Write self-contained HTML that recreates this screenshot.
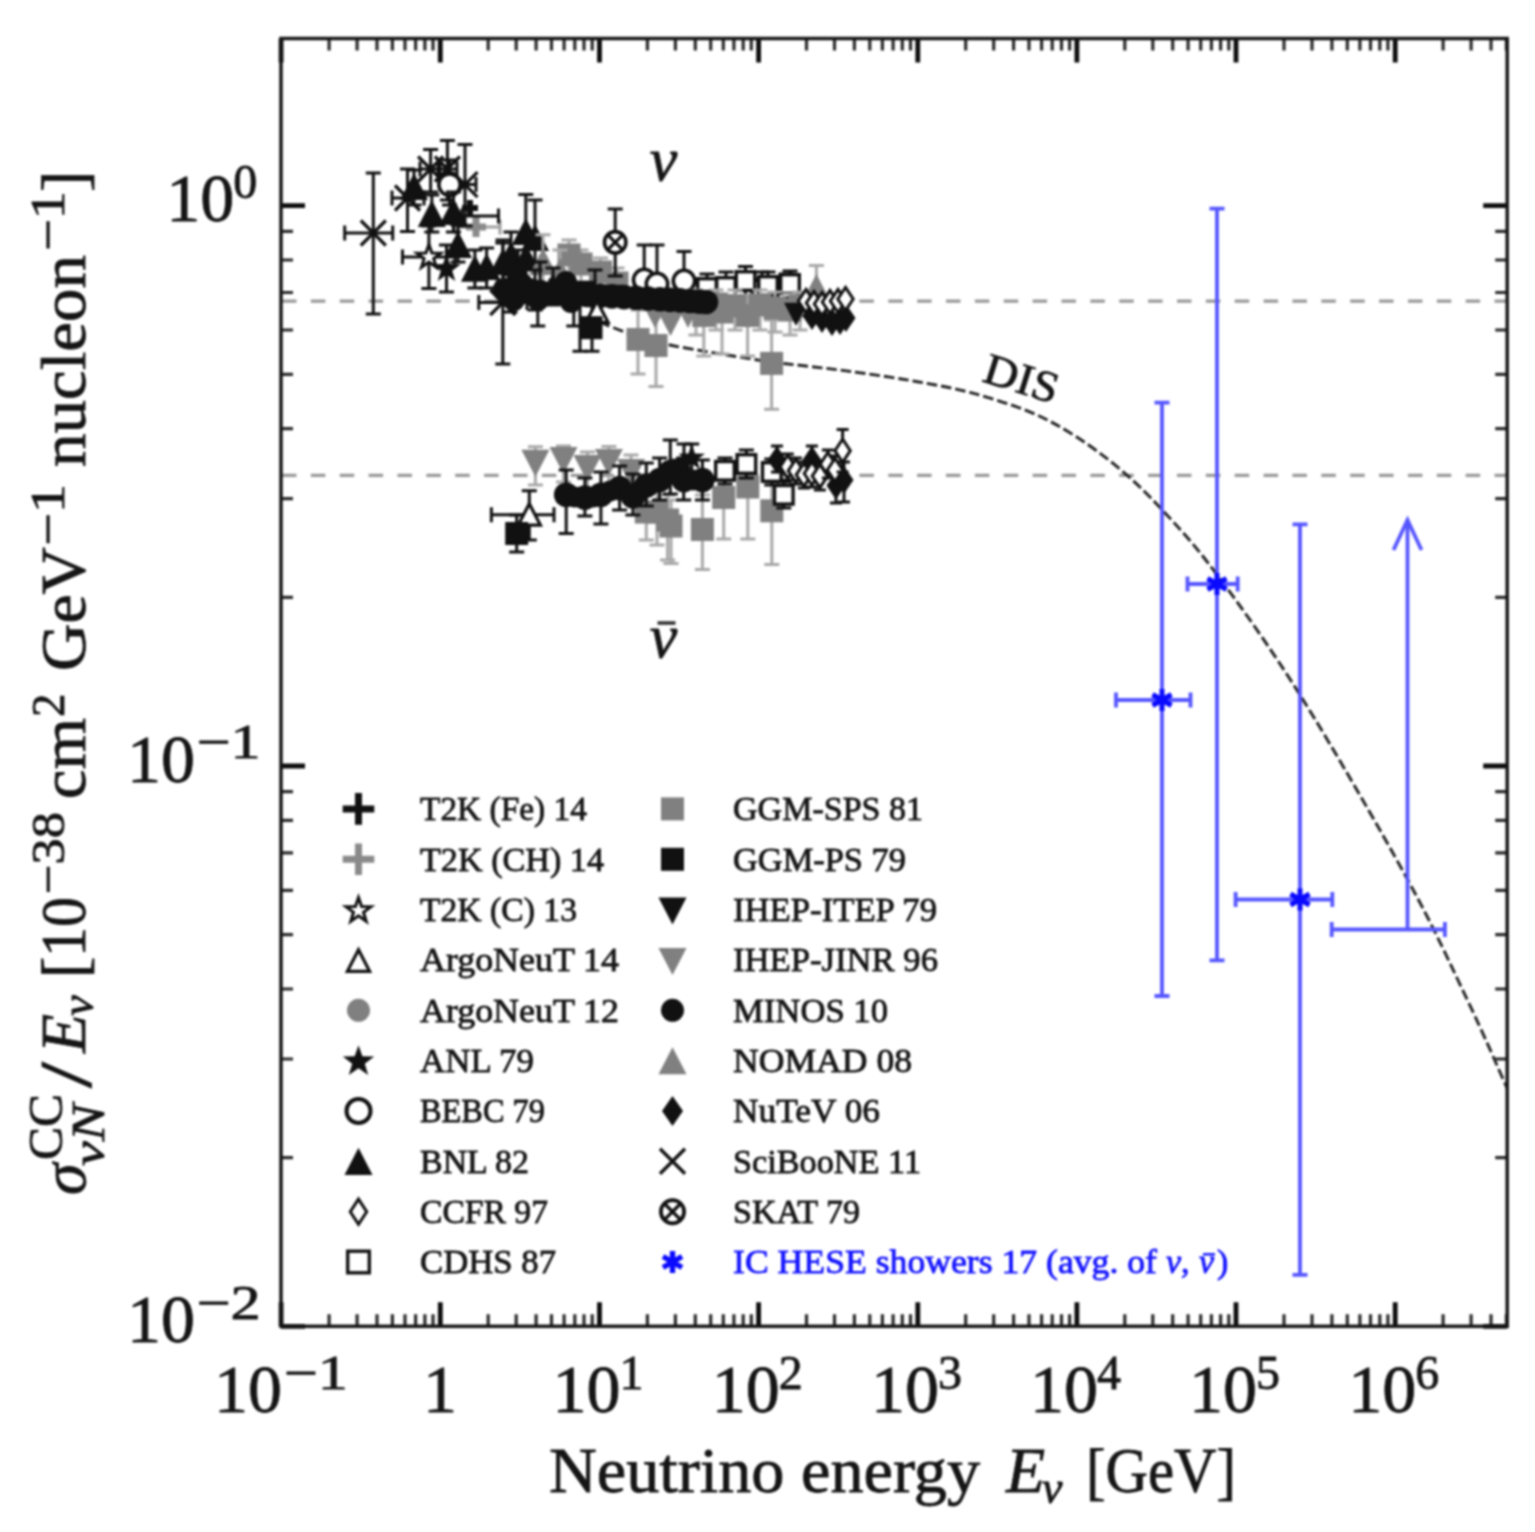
<!DOCTYPE html>
<html lang="en"><head><meta charset="utf-8"><title>Neutrino cross section</title>
<style>
html,body{margin:0;padding:0;background:#fff;}
body{width:1535px;height:1532px;overflow:hidden;}
svg{display:block;filter:blur(1.25px);}
text{font-family:"Liberation Serif","DejaVu Serif",serif;fill:#151515;stroke:#151515;stroke-width:0.8px;}
.it{font-style:italic;}
.bl{fill:#1414ff;stroke:#1414ff;}
</style></head><body>
<svg width="1535" height="1532" viewBox="0 0 1535 1532">
<rect width="1535" height="1532" fill="#fff"/>
<g id="plot">
<path d="M282.0 301.2H1507.2" stroke="#999" stroke-width="3.2" stroke-dasharray="14.5 14.37" fill="none"/>
<path d="M282.0 475.4H1507.2" stroke="#999" stroke-width="3.2" stroke-dasharray="14.5 14.37" fill="none"/>
<clipPath id="cp"><rect x="281.0" y="38.5" width="1226.2" height="1287.8"/></clipPath>
<g clip-path="url(#cp)"><path d="M600.0 322.0C602.4 323.0 607.5 325.5 614.2 328.0C620.9 330.5 631.0 334.2 640.0 337.0C649.0 339.8 658.4 342.4 668.4 344.7C678.4 346.9 690.3 348.8 700.0 350.5C709.7 352.2 714.9 353.1 726.8 355.0C738.7 356.9 757.7 360.1 771.6 362.0C785.5 363.9 796.9 364.9 810.0 366.5C823.1 368.1 833.4 369.1 850.0 371.4C866.6 373.7 889.8 376.9 909.8 380.4C929.8 383.9 949.8 387.1 969.8 392.4C989.8 397.6 1012.2 404.7 1029.7 411.9C1047.2 419.1 1059.7 426.3 1074.7 435.8C1089.7 445.3 1105.1 456.6 1119.6 468.8C1134.1 481.0 1145.4 491.7 1161.6 509.2C1177.8 526.7 1193.3 542.9 1216.5 574.0C1239.7 605.1 1268.9 645.2 1300.7 696.0C1332.5 746.8 1379.5 828.3 1407.3 879.0C1435.1 929.7 1450.8 965.2 1467.4 1000.0C1484.0 1034.8 1496.6 1064.7 1507.0 1088.0C1517.4 1111.3 1526.2 1131.3 1530.0 1140.0" stroke="#222" stroke-width="2.9" stroke-dasharray="10.5 4" fill="none"/></g>
<text transform="translate(1021.5 379) rotate(17.5)" font-size="44" text-anchor="middle" textLength="76" lengthAdjust="spacingAndGlyphs" y="14">DIS</text>
<path d="M569.0 240.0V275.0M561.5 240.0h15.0M561.5 275.0h15.0" stroke="#a8a8a8" stroke-width="3.0" fill="none"/>
<path d="M581.0 250.0V282.0M573.5 250.0h15.0M573.5 282.0h15.0" stroke="#a8a8a8" stroke-width="3.0" fill="none"/>
<path d="M600.5 258.0V290.0M593.0 258.0h15.0M593.0 290.0h15.0" stroke="#a8a8a8" stroke-width="3.0" fill="none"/>
<path d="M617.0 268.0V300.0M609.5 268.0h15.0M609.5 300.0h15.0" stroke="#a8a8a8" stroke-width="3.0" fill="none"/>
<rect x="557.5" y="243.5" width="23.0" height="23.0" fill="#808080"/>
<rect x="569.5" y="252.5" width="23.0" height="23.0" fill="#808080"/>
<rect x="589.0" y="260.5" width="23.0" height="23.0" fill="#808080"/>
<rect x="605.5" y="271.5" width="23.0" height="23.0" fill="#808080"/>
<path d="M455.0 227.0H500.0M455.0 219.5v15.0M500.0 219.5v15.0" stroke="#a0a0a0" stroke-width="3.0" fill="none"/>
<path d="M466.0 227.0h20.0M476.0 217.0v20.0" stroke="#8a8a8a" stroke-width="7" fill="none"/>
<circle cx="597.0" cy="296.0" r="11.0" fill="#808080"/>
<path d="M373.3 172.9V313.9M365.8 172.9h15.0M365.8 313.9h15.0" stroke="#111" stroke-width="3.0" fill="none"/><path d="M344.7 233.0H392.7M344.7 225.5v15.0M392.7 225.5v15.0" stroke="#111" stroke-width="3.0" fill="none"/>
<path d="M360.8 220.5l25.0 25.0M360.8 245.5l25.0 -25.0" stroke="#111" stroke-width="3.2" fill="none"/>
<circle cx="373.3" cy="233" r="3.5" fill="#111"/>
<path d="M407.5 169.0V231.6M400.0 169.0h15.0M400.0 231.6h15.0" stroke="#111" stroke-width="3.0" fill="none"/><path d="M392.0 198.0H424.0M392.0 190.5v15.0M424.0 190.5v15.0" stroke="#111" stroke-width="3.0" fill="none"/>
<path d="M395.0 185.5l25.0 25.0M395.0 210.5l25.0 -25.0" stroke="#111" stroke-width="3.2" fill="none"/>
<circle cx="407.5" cy="198" r="3.5" fill="#111"/>
<path d="M430.6 149.4V192.0M423.1 149.4h15.0M423.1 192.0h15.0" stroke="#111" stroke-width="3.0" fill="none"/><path d="M420.0 169.0H440.0M420.0 161.5v15.0M440.0 161.5v15.0" stroke="#111" stroke-width="3.0" fill="none"/>
<path d="M418.1 156.5l25.0 25.0M418.1 181.5l25.0 -25.0" stroke="#111" stroke-width="3.2" fill="none"/>
<circle cx="430.6" cy="169" r="3.5" fill="#111"/>
<path d="M447.4 140.5V200.0M439.9 140.5h15.0M439.9 200.0h15.0" stroke="#111" stroke-width="3.0" fill="none"/><path d="M438.0 169.0H457.0M438.0 161.5v15.0M457.0 161.5v15.0" stroke="#111" stroke-width="3.0" fill="none"/>
<path d="M434.9 156.5l25.0 25.0M434.9 181.5l25.0 -25.0" stroke="#111" stroke-width="3.2" fill="none"/>
<circle cx="447.4" cy="169" r="3.5" fill="#111"/>
<path d="M465.0 144.5V226.0M457.5 144.5h15.0M457.5 226.0h15.0" stroke="#111" stroke-width="3.0" fill="none"/><path d="M455.0 184.6H476.0M455.0 177.1v15.0M476.0 177.1v15.0" stroke="#111" stroke-width="3.0" fill="none"/>
<path d="M452.5 172.1l25.0 25.0M452.5 197.1l25.0 -25.0" stroke="#111" stroke-width="3.2" fill="none"/>
<circle cx="465" cy="184.6" r="3.5" fill="#111"/>
<path d="M502.8 243.0V364.0M495.3 243.0h15.0M495.3 364.0h15.0" stroke="#111" stroke-width="3.0" fill="none"/><path d="M478.8 302.5H527.0M478.8 295.0v15.0M527.0 295.0v15.0" stroke="#111" stroke-width="3.0" fill="none"/>
<path d="M490.3 290.0l25.0 25.0M490.3 315.0l25.0 -25.0" stroke="#111" stroke-width="3.2" fill="none"/>
<circle cx="502.8" cy="302.5" r="3.5" fill="#111"/>
<path d="M449.5 160.0V205.0M442.0 160.0h15.0M442.0 205.0h15.0" stroke="#111" stroke-width="3.0" fill="none"/>
<circle cx="449.5" cy="184.6" r="10.7" fill="#fff" stroke="#111" stroke-width="3.6"/>
<path d="M644.2 245.0V300.0M636.7 245.0h15.0M636.7 300.0h15.0" stroke="#111" stroke-width="3.0" fill="none"/>
<circle cx="644.2" cy="280.0" r="10.7" fill="#fff" stroke="#111" stroke-width="3.6"/>
<path d="M657.0 245.0V305.0M649.5 245.0h15.0M649.5 305.0h15.0" stroke="#111" stroke-width="3.0" fill="none"/>
<circle cx="657.0" cy="284.0" r="10.7" fill="#fff" stroke="#111" stroke-width="3.6"/>
<path d="M684.0 251.5V300.0M676.5 251.5h15.0M676.5 300.0h15.0" stroke="#111" stroke-width="3.0" fill="none"/>
<circle cx="684.0" cy="281.0" r="10.7" fill="#fff" stroke="#111" stroke-width="3.6"/>
<path d="M762.0 272.0V303.0M754.5 272.0h15.0M754.5 303.0h15.0" stroke="#111" stroke-width="3.0" fill="none"/>
<circle cx="762.0" cy="289.0" r="10.7" fill="#fff" stroke="#111" stroke-width="3.6"/>
<path d="M786.0 274.0V304.0M778.5 274.0h15.0M778.5 304.0h15.0" stroke="#111" stroke-width="3.0" fill="none"/>
<circle cx="786.0" cy="290.0" r="10.7" fill="#fff" stroke="#111" stroke-width="3.6"/>
<path d="M414.0 170.0V205.0M406.5 170.0h15.0M406.5 205.0h15.0" stroke="#111" stroke-width="3.0" fill="none"/>
<polygon points="414.0,173.0 428.0,200.0 400.0,200.0" fill="#111"/>
<path d="M431.8 195.0V232.0M424.3 195.0h15.0M424.3 232.0h15.0" stroke="#111" stroke-width="3.0" fill="none"/>
<polygon points="431.8,200.0 445.8,227.0 417.8,227.0" fill="#111"/>
<path d="M453.4 192.0V232.0M445.9 192.0h15.0M445.9 232.0h15.0" stroke="#111" stroke-width="3.0" fill="none"/>
<polygon points="453.4,198.0 467.4,225.0 439.4,225.0" fill="#111"/>
<path d="M458.0 225.0V262.0M450.5 225.0h15.0M450.5 262.0h15.0" stroke="#111" stroke-width="3.0" fill="none"/>
<polygon points="458.0,231.0 472.0,258.0 444.0,258.0" fill="#111"/>
<path d="M474.9 250.0V288.0M467.4 250.0h15.0M467.4 288.0h15.0" stroke="#111" stroke-width="3.0" fill="none"/>
<polygon points="474.9,254.8 488.9,281.8 460.9,281.8" fill="#111"/>
<path d="M486.6 248.0V288.0M479.1 248.0h15.0M479.1 288.0h15.0" stroke="#111" stroke-width="3.0" fill="none"/>
<polygon points="486.6,253.0 500.6,280.0 472.6,280.0" fill="#111"/>
<path d="M511.0 232.0V275.0M503.5 232.0h15.0M503.5 275.0h15.0" stroke="#111" stroke-width="3.0" fill="none"/>
<polygon points="511.0,241.0 525.0,268.0 497.0,268.0" fill="#111"/>
<path d="M525.8 194.4V262.0M518.3 194.4h15.0M518.3 262.0h15.0" stroke="#111" stroke-width="3.0" fill="none"/>
<polygon points="525.8,218.0 539.8,245.0 511.8,245.0" fill="#111"/>
<path d="M535.0 200.0V268.0M527.5 200.0h15.0M527.5 268.0h15.0" stroke="#111" stroke-width="3.0" fill="none"/>
<polygon points="535.0,224.0 549.0,251.0 521.0,251.0" fill="#111"/>
<path d="M518.0 250.0V290.0M510.5 250.0h15.0M510.5 290.0h15.0" stroke="#111" stroke-width="3.0" fill="none"/>
<polygon points="518.0,256.0 532.0,283.0 504.0,283.0" fill="#111"/>
<path d="M503.0 240.0V282.0M495.5 240.0h15.0M495.5 282.0h15.0" stroke="#111" stroke-width="3.0" fill="none"/>
<polygon points="503.0,248.0 517.0,275.0 489.0,275.0" fill="#111"/>
<path d="M526.0 240.0V280.0M518.5 240.0h15.0M518.5 280.0h15.0" stroke="#111" stroke-width="3.0" fill="none"/>
<polygon points="526.0,244.0 540.0,271.0 512.0,271.0" fill="#111"/>
<path d="M543.0 234.7V285.0M535.5 234.7h15.0M535.5 285.0h15.0" stroke="#a8a8a8" stroke-width="3.0" fill="none"/>
<polygon points="543.0,248.0 557.0,275.0 529.0,275.0" fill="#808080"/>
<path d="M560.0 250.0V290.0M552.5 250.0h15.0M552.5 290.0h15.0" stroke="#a8a8a8" stroke-width="3.0" fill="none"/>
<polygon points="560.0,258.0 574.0,285.0 546.0,285.0" fill="#808080"/>
<path d="M428.9 226.0V288.4M421.4 226.0h15.0M421.4 288.4h15.0" stroke="#111" stroke-width="3.0" fill="none"/><path d="M402.5 257.0H455.0M402.5 249.5v15.0M455.0 249.5v15.0" stroke="#111" stroke-width="3.0" fill="none"/>
<polygon points="428.9,244.4 431.9,252.9 440.9,253.1 433.7,258.6 436.3,267.2 428.9,262.0 421.5,267.2 424.1,258.6 416.9,253.1 425.9,252.9" fill="#fff" stroke="#111" stroke-width="3.0" stroke-linejoin="miter"/>
<path d="M446.5 245.0V292.0M439.0 245.0h15.0M439.0 292.0h15.0" stroke="#111" stroke-width="3.0" fill="none"/>
<polygon points="446.5,253.8 450.0,263.9 460.8,264.2 452.2,270.7 455.3,280.9 446.5,274.8 437.7,280.9 440.8,270.7 432.2,264.2 443.0,263.9" fill="#111"/>
<path d="M510.0 270.0V312.0M502.5 270.0h15.0M502.5 312.0h15.0" stroke="#111" stroke-width="3.0" fill="none"/>
<polygon points="510.0,277.0 513.5,287.1 524.3,287.4 515.7,293.9 518.8,304.1 510.0,298.0 501.2,304.1 504.3,293.9 495.7,287.4 506.5,287.1" fill="#111"/>
<path d="M535.0 270.0V310.0M527.5 270.0h15.0M527.5 310.0h15.0" stroke="#111" stroke-width="3.0" fill="none"/>
<polygon points="535.0,275.0 538.5,285.1 549.3,285.4 540.7,291.9 543.8,302.1 535.0,296.0 526.2,302.1 529.3,291.9 520.7,285.4 531.5,285.1" fill="#111"/>
<path d="M553.0 268.0V305.0M545.5 268.0h15.0M545.5 305.0h15.0" stroke="#111" stroke-width="3.0" fill="none"/>
<polygon points="553.0,272.0 556.5,282.1 567.3,282.4 558.7,288.9 561.8,299.1 553.0,293.0 544.2,299.1 547.3,288.9 538.7,282.4 549.5,282.1" fill="#111"/>
<path d="M462.0 216.0H498.5M462.0 208.5v15.0M498.5 208.5v15.0" stroke="#111" stroke-width="3.0" fill="none"/>
<path d="M462.0 208.0h16.0M470.0 200.0v16.0" stroke="#111" stroke-width="6" fill="none"/>
<path d="M707.0 274.0V302.0M699.5 274.0h15.0M699.5 302.0h15.0" stroke="#111" stroke-width="3.0" fill="none"/>
<rect x="697.7" y="278.7" width="18.6" height="18.6" fill="#fff" stroke="#111" stroke-width="3.4"/>
<path d="M726.0 272.0V300.0M718.5 272.0h15.0M718.5 300.0h15.0" stroke="#111" stroke-width="3.0" fill="none"/>
<rect x="716.7" y="277.7" width="18.6" height="18.6" fill="#fff" stroke="#111" stroke-width="3.4"/>
<path d="M745.5 266.5V296.0M738.0 266.5h15.0M738.0 296.0h15.0" stroke="#111" stroke-width="3.0" fill="none"/>
<rect x="736.2" y="271.7" width="18.6" height="18.6" fill="#fff" stroke="#111" stroke-width="3.4"/>
<path d="M768.0 272.0V300.0M760.5 272.0h15.0M760.5 300.0h15.0" stroke="#111" stroke-width="3.0" fill="none"/>
<rect x="758.7" y="276.7" width="18.6" height="18.6" fill="#fff" stroke="#111" stroke-width="3.4"/>
<path d="M790.0 271.0V298.0M782.5 271.0h15.0M782.5 298.0h15.0" stroke="#111" stroke-width="3.0" fill="none"/>
<rect x="780.7" y="274.7" width="18.6" height="18.6" fill="#fff" stroke="#111" stroke-width="3.4"/>
<path d="M638.0 310.0V374.0M630.5 310.0h15.0M630.5 374.0h15.0" stroke="#a8a8a8" stroke-width="3.0" fill="none"/>
<path d="M656.0 312.0V386.4M648.5 312.0h15.0M648.5 386.4h15.0" stroke="#a8a8a8" stroke-width="3.0" fill="none"/>
<path d="M771.6 320.0V409.3M764.1 320.0h15.0M764.1 409.3h15.0" stroke="#a8a8a8" stroke-width="3.0" fill="none"/>
<path d="M696.0 290.0V335.0M688.5 290.0h15.0M688.5 335.0h15.0" stroke="#a8a8a8" stroke-width="3.0" fill="none"/>
<path d="M703.8 295.0V356.0M696.3 295.0h15.0M696.3 356.0h15.0" stroke="#a8a8a8" stroke-width="3.0" fill="none"/>
<path d="M716.0 290.0V330.0M708.5 290.0h15.0M708.5 330.0h15.0" stroke="#a8a8a8" stroke-width="3.0" fill="none"/>
<path d="M722.0 295.0V354.0M714.5 295.0h15.0M714.5 354.0h15.0" stroke="#a8a8a8" stroke-width="3.0" fill="none"/>
<path d="M735.0 290.0V330.0M727.5 290.0h15.0M727.5 330.0h15.0" stroke="#a8a8a8" stroke-width="3.0" fill="none"/>
<path d="M747.6 295.0V356.0M740.1 295.0h15.0M740.1 356.0h15.0" stroke="#a8a8a8" stroke-width="3.0" fill="none"/>
<path d="M760.0 290.0V330.0M752.5 290.0h15.0M752.5 330.0h15.0" stroke="#a8a8a8" stroke-width="3.0" fill="none"/>
<path d="M775.0 292.0V332.0M767.5 292.0h15.0M767.5 332.0h15.0" stroke="#a8a8a8" stroke-width="3.0" fill="none"/>
<path d="M790.0 294.0V335.0M782.5 294.0h15.0M782.5 335.0h15.0" stroke="#a8a8a8" stroke-width="3.0" fill="none"/>
<path d="M800.0 292.0V330.0M792.5 292.0h15.0M792.5 330.0h15.0" stroke="#a8a8a8" stroke-width="3.0" fill="none"/>
<rect x="626.5" y="328.0" width="23.0" height="23.0" fill="#808080"/>
<rect x="644.5" y="334.0" width="23.0" height="23.0" fill="#808080"/>
<rect x="760.1" y="351.9" width="23.0" height="23.0" fill="#808080"/>
<rect x="684.5" y="294.5" width="23.0" height="23.0" fill="#808080"/>
<rect x="692.3" y="304.0" width="23.0" height="23.0" fill="#808080"/>
<rect x="704.5" y="292.5" width="23.0" height="23.0" fill="#808080"/>
<rect x="710.5" y="300.5" width="23.0" height="23.0" fill="#808080"/>
<rect x="723.5" y="294.5" width="23.0" height="23.0" fill="#808080"/>
<rect x="736.1" y="304.0" width="23.0" height="23.0" fill="#808080"/>
<rect x="748.5" y="293.5" width="23.0" height="23.0" fill="#808080"/>
<rect x="763.5" y="296.5" width="23.0" height="23.0" fill="#808080"/>
<rect x="778.5" y="298.5" width="23.0" height="23.0" fill="#808080"/>
<rect x="788.5" y="294.5" width="23.0" height="23.0" fill="#808080"/>
<polygon points="670.5,336.0 684.5,309.0 656.5,309.0" fill="#808080"/>
<polygon points="655.0,328.0 669.0,301.0 641.0,301.0" fill="#808080"/>
<polygon points="688.0,328.0 702.0,301.0 674.0,301.0" fill="#808080"/>
<path d="M816.4 265.5V305.0M808.9 265.5h15.0M808.9 305.0h15.0" stroke="#a8a8a8" stroke-width="3.0" fill="none"/>
<polygon points="816.4,274.0 830.4,301.0 802.4,301.0" fill="#808080"/>
<polygon points="560.0,302.0 572.0,278.8 548.0,278.8" fill="#111"/>
<polygon points="585.0,304.0 597.0,280.8 573.0,280.8" fill="#111"/>
<polygon points="612.0,308.0 624.0,284.8 600.0,284.8" fill="#111"/>
<polygon points="640.0,311.0 652.0,287.8 628.0,287.8" fill="#111"/>
<polygon points="796.0,326.0 808.0,302.8 784.0,302.8" fill="#111"/>
<circle cx="505.0" cy="290.0" r="12.3" fill="#111"/>
<circle cx="516.0" cy="290.7" r="12.3" fill="#111"/>
<circle cx="528.0" cy="291.4" r="12.3" fill="#111"/>
<circle cx="540.0" cy="292.1" r="12.3" fill="#111"/>
<circle cx="552.0" cy="292.8" r="12.3" fill="#111"/>
<circle cx="564.0" cy="293.5" r="12.3" fill="#111"/>
<circle cx="576.0" cy="294.2" r="12.3" fill="#111"/>
<circle cx="588.0" cy="295.0" r="12.3" fill="#111"/>
<circle cx="600.0" cy="295.7" r="12.3" fill="#111"/>
<circle cx="612.0" cy="296.4" r="12.3" fill="#111"/>
<circle cx="624.0" cy="297.1" r="12.3" fill="#111"/>
<circle cx="636.0" cy="297.8" r="12.3" fill="#111"/>
<circle cx="648.0" cy="298.5" r="12.3" fill="#111"/>
<circle cx="660.0" cy="299.3" r="12.3" fill="#111"/>
<circle cx="670.0" cy="299.9" r="12.3" fill="#111"/>
<circle cx="680.0" cy="300.4" r="12.3" fill="#111"/>
<circle cx="690.0" cy="301.0" r="12.3" fill="#111"/>
<circle cx="699.0" cy="301.6" r="12.3" fill="#111"/>
<circle cx="706.0" cy="302.0" r="12.3" fill="#111"/>
<circle cx="514.0" cy="300.0" r="11.0" fill="#111"/>
<circle cx="522.0" cy="284.0" r="11.0" fill="#111"/>
<circle cx="538.0" cy="300.0" r="11.0" fill="#111"/>
<circle cx="566.0" cy="282.0" r="11.0" fill="#111"/>
<circle cx="571.0" cy="302.0" r="11.0" fill="#111"/>
<path d="M537.8 300.0V326.0M530.3 300.0h15.0M530.3 326.0h15.0" stroke="#111" stroke-width="3.0" fill="none"/>
<path d="M573.8 300.0V326.0M566.3 300.0h15.0M566.3 326.0h15.0" stroke="#111" stroke-width="3.0" fill="none"/>
<path d="M540.0 262.0V290.0M532.5 262.0h15.0M532.5 290.0h15.0" stroke="#111" stroke-width="3.0" fill="none"/>
<path d="M595.0 270.0V290.0M587.5 270.0h15.0M587.5 290.0h15.0" stroke="#111" stroke-width="3.0" fill="none"/>
<path d="M580.0 305.0V351.2M572.5 305.0h15.0M572.5 351.2h15.0" stroke="#111" stroke-width="3.0" fill="none"/>
<path d="M592.0 305.0V351.2M584.5 305.0h15.0M584.5 351.2h15.0" stroke="#111" stroke-width="3.0" fill="none"/>
<polygon points="597.0,300.9 608.1,322.3 585.9,322.3" fill="#fff" stroke="#111" stroke-width="3.2" stroke-linejoin="miter"/>
<rect x="579.5" y="316.2" width="23.0" height="23.0" fill="#111"/>
<path d="M615.2 209.0V276.0M607.7 209.0h15.0M607.7 276.0h15.0" stroke="#111" stroke-width="3.0" fill="none"/>
<circle cx="615.2" cy="242.3" r="10.7" fill="#fff" stroke="#111" stroke-width="3.6"/>
<path d="M607.6 234.7l15.1 15.1M607.6 249.9l15.1 -15.1" stroke="#111" stroke-width="3.2" fill="none"/>
<polygon points="812.0,302.0 821.5,316.0 812.0,330.0 802.5,316.0" fill="#111"/>
<polygon points="822.0,305.0 831.5,319.0 822.0,333.0 812.5,319.0" fill="#111"/>
<polygon points="832.0,308.0 841.5,322.0 832.0,336.0 822.5,322.0" fill="#111"/>
<polygon points="840.0,307.0 849.5,321.0 840.0,335.0 830.5,321.0" fill="#111"/>
<polygon points="846.0,304.0 855.5,318.0 846.0,332.0 836.5,318.0" fill="#111"/>
<polygon points="806.0,289.4 813.7,301.0 806.0,312.6 798.3,301.0" fill="#fff" stroke="#111" stroke-width="3.0"/>
<polygon points="814.0,291.4 821.7,303.0 814.0,314.6 806.3,303.0" fill="#fff" stroke="#111" stroke-width="3.0"/>
<polygon points="822.0,292.4 829.7,304.0 822.0,315.6 814.3,304.0" fill="#fff" stroke="#111" stroke-width="3.0"/>
<polygon points="830.0,290.4 837.7,302.0 830.0,313.6 822.3,302.0" fill="#fff" stroke="#111" stroke-width="3.0"/>
<polygon points="838.0,289.4 845.7,301.0 838.0,312.6 830.3,301.0" fill="#fff" stroke="#111" stroke-width="3.0"/>
<polygon points="845.5,287.4 853.2,299.0 845.5,310.6 837.8,299.0" fill="#fff" stroke="#111" stroke-width="3.0"/>
<path d="M535.4 446.7V485.0M527.9 446.7h15.0M527.9 485.0h15.0" stroke="#a8a8a8" stroke-width="3.0" fill="none"/>
<polygon points="535.4,476.8 549.4,449.8 521.4,449.8" fill="#808080"/>
<path d="M563.5 446.0V482.0M556.0 446.0h15.0M556.0 482.0h15.0" stroke="#a8a8a8" stroke-width="3.0" fill="none"/>
<polygon points="563.5,474.0 577.5,447.0 549.5,447.0" fill="#808080"/>
<path d="M587.5 452.0V488.0M580.0 452.0h15.0M580.0 488.0h15.0" stroke="#a8a8a8" stroke-width="3.0" fill="none"/>
<polygon points="587.5,482.0 601.5,455.0 573.5,455.0" fill="#808080"/>
<path d="M608.9 446.5V484.0M601.4 446.5h15.0M601.4 484.0h15.0" stroke="#a8a8a8" stroke-width="3.0" fill="none"/>
<polygon points="608.9,476.0 622.9,449.0 594.9,449.0" fill="#808080"/>
<path d="M631.0 455.0V492.0M623.5 455.0h15.0M623.5 492.0h15.0" stroke="#a8a8a8" stroke-width="3.0" fill="none"/>
<polygon points="631.0,486.0 645.0,459.0 617.0,459.0" fill="#808080"/>
<path d="M529.3 490.8V540.0M521.8 490.8h15.0M521.8 540.0h15.0" stroke="#111" stroke-width="3.0" fill="none"/><path d="M491.4 514.8H554.0M491.4 507.3v15.0M554.0 507.3v15.0" stroke="#111" stroke-width="3.0" fill="none"/>
<polygon points="529.3,503.7 540.4,525.1 518.2,525.1" fill="#fff" stroke="#111" stroke-width="3.2" stroke-linejoin="miter"/>
<path d="M516.7 515.0V552.0M509.2 515.0h15.0M509.2 552.0h15.0" stroke="#111" stroke-width="3.0" fill="none"/>
<rect x="505.2" y="522.0" width="23.0" height="23.0" fill="#111"/>
<path d="M646.3 488.0V540.0M638.8 488.0h15.0M638.8 540.0h15.0" stroke="#a8a8a8" stroke-width="3.0" fill="none"/>
<path d="M657.0 488.0V545.0M649.5 488.0h15.0M649.5 545.0h15.0" stroke="#a8a8a8" stroke-width="3.0" fill="none"/>
<path d="M667.6 495.0V560.0M660.1 495.0h15.0M660.1 560.0h15.0" stroke="#a8a8a8" stroke-width="3.0" fill="none"/>
<path d="M671.0 500.0V563.5M663.5 500.0h15.0M663.5 563.5h15.0" stroke="#a8a8a8" stroke-width="3.0" fill="none"/>
<path d="M702.4 495.0V569.6M694.9 495.0h15.0M694.9 569.6h15.0" stroke="#a8a8a8" stroke-width="3.0" fill="none"/>
<path d="M723.7 470.0V539.0M716.2 470.0h15.0M716.2 539.0h15.0" stroke="#a8a8a8" stroke-width="3.0" fill="none"/>
<path d="M747.8 455.0V539.0M740.3 455.0h15.0M740.3 539.0h15.0" stroke="#a8a8a8" stroke-width="3.0" fill="none"/>
<path d="M771.8 475.0V564.5M764.3 475.0h15.0M764.3 564.5h15.0" stroke="#a8a8a8" stroke-width="3.0" fill="none"/>
<rect x="634.8" y="500.5" width="23.0" height="23.0" fill="#808080"/>
<rect x="645.5" y="500.5" width="23.0" height="23.0" fill="#808080"/>
<rect x="656.1" y="508.5" width="23.0" height="23.0" fill="#808080"/>
<rect x="659.5" y="514.5" width="23.0" height="23.0" fill="#808080"/>
<rect x="690.9" y="518.0" width="23.0" height="23.0" fill="#808080"/>
<rect x="712.2" y="486.0" width="23.0" height="23.0" fill="#808080"/>
<rect x="736.3" y="475.5" width="23.0" height="23.0" fill="#808080"/>
<rect x="760.3" y="499.3" width="23.0" height="23.0" fill="#808080"/>
<path d="M725.0 458.0V484.0M717.5 458.0h15.0M717.5 484.0h15.0" stroke="#111" stroke-width="3.0" fill="none"/>
<rect x="715.7" y="461.5" width="18.6" height="18.6" fill="#fff" stroke="#111" stroke-width="3.4"/>
<path d="M746.4 450.0V478.0M738.9 450.0h15.0M738.9 478.0h15.0" stroke="#111" stroke-width="3.0" fill="none"/>
<rect x="737.1" y="454.7" width="18.6" height="18.6" fill="#fff" stroke="#111" stroke-width="3.4"/>
<path d="M771.8 459.0V485.0M764.3 459.0h15.0M764.3 485.0h15.0" stroke="#111" stroke-width="3.0" fill="none"/>
<rect x="762.5" y="462.7" width="18.6" height="18.6" fill="#fff" stroke="#111" stroke-width="3.4"/>
<path d="M783.8 482.0V508.0M776.3 482.0h15.0M776.3 508.0h15.0" stroke="#111" stroke-width="3.0" fill="none"/>
<rect x="774.5" y="485.5" width="18.6" height="18.6" fill="#fff" stroke="#111" stroke-width="3.4"/>
<path d="M566.2 470.0V533.5M558.7 470.0h15.0M558.7 533.5h15.0" stroke="#111" stroke-width="3.0" fill="none"/>
<path d="M584.9 478.0V516.0M577.4 478.0h15.0M577.4 516.0h15.0" stroke="#111" stroke-width="3.0" fill="none"/>
<path d="M600.9 472.0V524.0M593.4 472.0h15.0M593.4 524.0h15.0" stroke="#111" stroke-width="3.0" fill="none"/>
<path d="M619.6 466.0V510.0M612.1 466.0h15.0M612.1 510.0h15.0" stroke="#111" stroke-width="3.0" fill="none"/>
<path d="M632.9 474.0V515.0M625.4 474.0h15.0M625.4 515.0h15.0" stroke="#111" stroke-width="3.0" fill="none"/>
<path d="M646.3 463.0V506.0M638.8 463.0h15.0M638.8 506.0h15.0" stroke="#111" stroke-width="3.0" fill="none"/>
<path d="M659.6 458.0V500.0M652.1 458.0h15.0M652.1 500.0h15.0" stroke="#111" stroke-width="3.0" fill="none"/>
<path d="M670.3 440.0V494.0M662.8 440.0h15.0M662.8 494.0h15.0" stroke="#111" stroke-width="3.0" fill="none"/>
<path d="M683.7 458.0V500.0M676.2 458.0h15.0M676.2 500.0h15.0" stroke="#111" stroke-width="3.0" fill="none"/>
<path d="M702.4 460.0V500.0M694.9 460.0h15.0M694.9 500.0h15.0" stroke="#111" stroke-width="3.0" fill="none"/>
<circle cx="566.2" cy="494.8" r="12.3" fill="#111"/>
<circle cx="584.9" cy="497.5" r="12.3" fill="#111"/>
<circle cx="600.9" cy="494.8" r="12.3" fill="#111"/>
<circle cx="619.6" cy="488.1" r="12.3" fill="#111"/>
<circle cx="632.9" cy="496.2" r="12.3" fill="#111"/>
<circle cx="646.3" cy="485.5" r="12.3" fill="#111"/>
<circle cx="659.6" cy="480.1" r="12.3" fill="#111"/>
<circle cx="670.3" cy="472.1" r="12.3" fill="#111"/>
<circle cx="683.7" cy="480.1" r="12.3" fill="#111"/>
<circle cx="702.4" cy="480.1" r="12.3" fill="#111"/>
<circle cx="575.0" cy="497.0" r="10.5" fill="#111"/>
<circle cx="593.0" cy="497.0" r="10.5" fill="#111"/>
<circle cx="610.0" cy="491.0" r="10.5" fill="#111"/>
<circle cx="640.0" cy="491.0" r="10.5" fill="#111"/>
<circle cx="653.0" cy="483.0" r="10.5" fill="#111"/>
<circle cx="693.0" cy="480.0" r="10.5" fill="#111"/>
<path d="M691.7 444.0V476.0M684.2 444.0h15.0M684.2 476.0h15.0" stroke="#111" stroke-width="3.0" fill="none"/>
<polygon points="691.7,444.0 695.0,453.5 705.0,453.7 697.0,459.7 699.9,469.3 691.7,463.6 683.5,469.3 686.4,459.7 678.4,453.7 688.4,453.5" fill="#111"/>
<path d="M684.0 444.0V476.0M676.5 444.0h15.0M676.5 476.0h15.0" stroke="#111" stroke-width="3.0" fill="none"/>
<polygon points="684.0,449.0 687.3,458.5 697.3,458.7 689.3,464.7 692.2,474.3 684.0,468.6 675.8,474.3 678.7,464.7 670.7,458.7 680.7,458.5" fill="#111"/>
<path d="M777.0 446.0V472.0M771.0 446.0h12.0M771.0 472.0h12.0" stroke="#111" stroke-width="3.0" fill="none"/>
<polygon points="777.0,446.0 786.5,460.0 777.0,474.0 767.5,460.0" fill="#111"/>
<path d="M811.9 446.0V472.0M805.9 446.0h12.0M805.9 472.0h12.0" stroke="#111" stroke-width="3.0" fill="none"/>
<polygon points="811.9,446.0 821.4,460.0 811.9,474.0 802.4,460.0" fill="#111"/>
<path d="M836.0 468.0V503.0M830.0 468.0h12.0M830.0 503.0h12.0" stroke="#111" stroke-width="3.0" fill="none"/>
<polygon points="836.0,471.5 845.5,485.5 836.0,499.5 826.5,485.5" fill="#111"/>
<path d="M844.0 462.0V502.0M838.0 462.0h12.0M838.0 502.0h12.0" stroke="#111" stroke-width="3.0" fill="none"/>
<polygon points="844.0,466.1 853.5,480.1 844.0,494.1 834.5,480.1" fill="#111"/>
<path d="M787.8 454.0V480.0M781.8 454.0h12.0M781.8 480.0h12.0" stroke="#111" stroke-width="3.0" fill="none"/>
<polygon points="787.8,455.2 795.5,466.8 787.8,478.4 780.1,466.8" fill="#fff" stroke="#111" stroke-width="3.0"/>
<path d="M795.9 458.0V484.0M789.9 458.0h12.0M789.9 484.0h12.0" stroke="#111" stroke-width="3.0" fill="none"/>
<polygon points="795.9,459.2 803.6,470.8 795.9,482.4 788.2,470.8" fill="#fff" stroke="#111" stroke-width="3.0"/>
<path d="M803.9 462.0V488.0M797.9 462.0h12.0M797.9 488.0h12.0" stroke="#111" stroke-width="3.0" fill="none"/>
<polygon points="803.9,463.2 811.6,474.8 803.9,486.4 796.2,474.8" fill="#fff" stroke="#111" stroke-width="3.0"/>
<path d="M811.9 460.0V487.0M805.9 460.0h12.0M805.9 487.0h12.0" stroke="#111" stroke-width="3.0" fill="none"/>
<polygon points="811.9,461.9 819.6,473.5 811.9,485.1 804.2,473.5" fill="#fff" stroke="#111" stroke-width="3.0"/>
<path d="M819.9 462.0V490.0M813.9 462.0h12.0M813.9 490.0h12.0" stroke="#111" stroke-width="3.0" fill="none"/>
<polygon points="819.9,464.5 827.6,476.1 819.9,487.7 812.2,476.1" fill="#fff" stroke="#111" stroke-width="3.0"/>
<path d="M827.9 450.0V478.0M821.9 450.0h12.0M821.9 478.0h12.0" stroke="#111" stroke-width="3.0" fill="none"/>
<polygon points="827.9,452.5 835.6,464.1 827.9,475.7 820.2,464.1" fill="#fff" stroke="#111" stroke-width="3.0"/>
<path d="M835.0 456.0V484.0M829.0 456.0h12.0M829.0 484.0h12.0" stroke="#111" stroke-width="3.0" fill="none"/>
<polygon points="835.0,458.4 842.7,470.0 835.0,481.6 827.3,470.0" fill="#fff" stroke="#111" stroke-width="3.0"/>
<path d="M842.6 429.4V472.0M836.6 429.4h12.0M836.6 472.0h12.0" stroke="#111" stroke-width="3.0" fill="none"/>
<polygon points="842.6,439.1 850.3,450.7 842.6,462.3 834.9,450.7" fill="#fff" stroke="#111" stroke-width="3.0"/>
<text class="it" x="663.5" y="179.5" font-size="62" text-anchor="middle">ν</text>
<text class="it" x="663.5" y="656.5" font-size="62" text-anchor="middle">ν</text>
<path d="M657.5 623h18" stroke="#333" stroke-width="3.6"/>
<path d="M1162.0 402.6V996.0M1154.5 402.6h15.0M1154.5 996.0h15.0" stroke="#5656ff" stroke-width="3.8" fill="none"/><path d="M1116.0 700.0H1190.5M1116.0 692.5v15.0M1190.5 692.5v15.0" stroke="#5656ff" stroke-width="3.8" fill="none"/>
<path d="M1217.0 208.6V960.4M1209.5 208.6h15.0M1209.5 960.4h15.0" stroke="#5656ff" stroke-width="3.8" fill="none"/><path d="M1187.5 584.0H1237.7M1187.5 576.5v15.0M1237.7 576.5v15.0" stroke="#5656ff" stroke-width="3.8" fill="none"/>
<path d="M1300.0 524.3V1274.8M1292.5 524.3h15.0M1292.5 1274.8h15.0" stroke="#5656ff" stroke-width="3.8" fill="none"/><path d="M1235.6 899.5H1332.3M1235.6 892.0v15.0M1332.3 892.0v15.0" stroke="#5656ff" stroke-width="3.8" fill="none"/>
<path d="M1162.0 689.0L1162.0 711.0M1171.5 694.5L1152.5 705.5M1171.5 705.5L1152.5 694.5" stroke="#0a0aff" stroke-width="5.0" fill="none"/>
<path d="M1217.0 573.0L1217.0 595.0M1226.5 578.5L1207.5 589.5M1226.5 589.5L1207.5 578.5" stroke="#0a0aff" stroke-width="5.0" fill="none"/>
<path d="M1300.0 888.5L1300.0 910.5M1309.5 894.0L1290.5 905.0M1309.5 905.0L1290.5 894.0" stroke="#0a0aff" stroke-width="5.0" fill="none"/>
<path d="M1331.7 929.5H1444.9M1331.7 922v15M1444.9 922v15M1407.5 929.5V521" stroke="#5656ff" stroke-width="3.8" fill="none"/>
<path d="M1393.5 550L1407.5 520L1421.5 550" stroke="#5656ff" stroke-width="3.8" fill="none" stroke-linejoin="miter"/>
</g>
<text x="420.0" y="820.2" font-size="34" textLength="167" lengthAdjust="spacingAndGlyphs">T2K (Fe) 14</text>
<text x="420.0" y="870.5" font-size="34" textLength="184" lengthAdjust="spacingAndGlyphs">T2K (CH) 14</text>
<text x="420.0" y="920.9" font-size="34" textLength="157" lengthAdjust="spacingAndGlyphs">T2K (C) 13</text>
<text x="420.0" y="971.2" font-size="34" textLength="199" lengthAdjust="spacingAndGlyphs">ArgoNeuT 14</text>
<text x="420.0" y="1021.6" font-size="34" textLength="199" lengthAdjust="spacingAndGlyphs">ArgoNeuT 12</text>
<text x="420.0" y="1072.0" font-size="34" textLength="114" lengthAdjust="spacingAndGlyphs">ANL 79</text>
<text x="420.0" y="1122.3" font-size="34" textLength="125" lengthAdjust="spacingAndGlyphs">BEBC 79</text>
<text x="420.0" y="1172.6" font-size="34" textLength="109" lengthAdjust="spacingAndGlyphs">BNL 82</text>
<text x="420.0" y="1223.0" font-size="34" textLength="128" lengthAdjust="spacingAndGlyphs">CCFR 97</text>
<text x="420.0" y="1273.3" font-size="34" textLength="136" lengthAdjust="spacingAndGlyphs">CDHS 87</text>
<text x="733.0" y="820.2" font-size="34" textLength="190" lengthAdjust="spacingAndGlyphs">GGM-SPS 81</text>
<text x="733.0" y="870.5" font-size="34" textLength="173" lengthAdjust="spacingAndGlyphs">GGM-PS 79</text>
<text x="733.0" y="920.9" font-size="34" textLength="204" lengthAdjust="spacingAndGlyphs">IHEP-ITEP 79</text>
<text x="733.0" y="971.2" font-size="34" textLength="205" lengthAdjust="spacingAndGlyphs">IHEP-JINR 96</text>
<text x="733.0" y="1021.6" font-size="34" textLength="155" lengthAdjust="spacingAndGlyphs">MINOS 10</text>
<text x="733.0" y="1072.0" font-size="34" textLength="179" lengthAdjust="spacingAndGlyphs">NOMAD 08</text>
<text x="733.0" y="1122.3" font-size="34" textLength="147" lengthAdjust="spacingAndGlyphs">NuTeV 06</text>
<text x="733.0" y="1172.6" font-size="34" textLength="188" lengthAdjust="spacingAndGlyphs">SciBooNE 11</text>
<text x="733.0" y="1223.0" font-size="34" textLength="127" lengthAdjust="spacingAndGlyphs">SKAT 79</text>
<path d="M342.7 808.9h31.6M358.5 793.1v31.6" stroke="#111" stroke-width="7" fill="none"/>
<path d="M342.7 859.2h31.6M358.5 843.5v31.6" stroke="#8a8a8a" stroke-width="7" fill="none"/>
<polygon points="358.5,897.5 361.6,906.4 371.0,906.6 363.5,912.2 366.2,921.2 358.5,915.8 350.8,921.2 353.5,912.2 346.0,906.6 355.4,906.4" fill="#fff" stroke="#111" stroke-width="3.0" stroke-linejoin="miter"/>
<polygon points="358.5,949.8 369.6,971.3 347.4,971.3" fill="#fff" stroke="#111" stroke-width="3.2" stroke-linejoin="miter"/>
<circle cx="358.5" cy="1010.3" r="11.5" fill="#808080"/>
<polygon points="358.5,1045.2 362.4,1056.3 374.2,1056.6 364.8,1063.7 368.2,1075.0 358.5,1068.2 348.8,1075.0 352.2,1063.7 342.8,1056.6 354.6,1056.3" fill="#111"/>
<circle cx="358.5" cy="1111.0" r="12.0" fill="#fff" stroke="#111" stroke-width="4"/>
<polygon points="358.5,1147.8 372.5,1174.9 344.5,1174.9" fill="#111"/>
<polygon points="358.5,1199.1 366.7,1211.7 358.5,1224.3 350.3,1211.7" fill="#fff" stroke="#111" stroke-width="3.0"/>
<rect x="347.7" y="1251.2" width="21.6" height="21.6" fill="#fff" stroke="#111" stroke-width="3.4"/>
<rect x="661.0" y="797.4" width="23.0" height="23.0" fill="#808080"/>
<rect x="661.0" y="847.8" width="23.0" height="23.0" fill="#111"/>
<polygon points="672.5,924.6 686.5,897.6 658.5,897.6" fill="#111"/>
<polygon points="672.5,975.0 686.5,947.9 658.5,947.9" fill="#808080"/>
<circle cx="672.5" cy="1010.3" r="11.5" fill="#111"/>
<polygon points="672.5,1047.2 686.5,1074.2 658.5,1074.2" fill="#808080"/>
<polygon points="672.5,1096.0 683.0,1111.0 672.5,1126.0 662.0,1111.0" fill="#111"/>
<path d="M660.0 1148.8l25.0 25.0M660.0 1173.8l25.0 -25.0" stroke="#111" stroke-width="3.4" fill="none"/>
<circle cx="672.5" cy="1211.7" r="11.6" fill="#fff" stroke="#111" stroke-width="3.8"/>
<path d="M664.3 1203.5l16.4 16.4M664.3 1219.9l16.4 -16.4" stroke="#111" stroke-width="3.4" fill="none"/>
<path d="M672.5 1251.0L672.5 1273.0M682.0 1256.5L663.0 1267.5M682.0 1267.5L663.0 1256.5" stroke="#0a0aff" stroke-width="5.4" fill="none"/>
<text x="733.0" y="1273.3" font-size="34" class="bl" textLength="424" lengthAdjust="spacingAndGlyphs">IC HESE showers 17 (avg. of</text>
<text x="1166" y="1273.3" font-size="34" class="it bl">ν</text>
<text x="1181" y="1273.3" font-size="34" class="bl">,</text>
<text x="1199" y="1273.3" font-size="34" class="it bl">ν</text>
<path d="M1203 1254.3h12" stroke="#1414ff" stroke-width="2.4"/>
<text x="1217" y="1273.3" font-size="34" class="bl">)</text>
<path d="M329.1 1326.3v-12.0M329.1 38.5v12.0M357.1 1326.3v-12.0M357.1 38.5v12.0M377.0 1326.3v-12.0M377.0 38.5v12.0M392.4 1326.3v-12.0M392.4 38.5v12.0M405.0 1326.3v-12.0M405.0 38.5v12.0M415.6 1326.3v-12.0M415.6 38.5v12.0M424.9 1326.3v-12.0M424.9 38.5v12.0M433.0 1326.3v-12.0M433.0 38.5v12.0M488.2 1326.3v-12.0M488.2 38.5v12.0M516.2 1326.3v-12.0M516.2 38.5v12.0M536.1 1326.3v-12.0M536.1 38.5v12.0M551.5 1326.3v-12.0M551.5 38.5v12.0M564.1 1326.3v-12.0M564.1 38.5v12.0M574.8 1326.3v-12.0M574.8 38.5v12.0M584.0 1326.3v-12.0M584.0 38.5v12.0M592.2 1326.3v-12.0M592.2 38.5v12.0M647.4 1326.3v-12.0M647.4 38.5v12.0M675.4 1326.3v-12.0M675.4 38.5v12.0M695.3 1326.3v-12.0M695.3 38.5v12.0M710.7 1326.3v-12.0M710.7 38.5v12.0M723.3 1326.3v-12.0M723.3 38.5v12.0M733.9 1326.3v-12.0M733.9 38.5v12.0M743.2 1326.3v-12.0M743.2 38.5v12.0M751.3 1326.3v-12.0M751.3 38.5v12.0M806.5 1326.3v-12.0M806.5 38.5v12.0M834.5 1326.3v-12.0M834.5 38.5v12.0M854.4 1326.3v-12.0M854.4 38.5v12.0M869.8 1326.3v-12.0M869.8 38.5v12.0M882.4 1326.3v-12.0M882.4 38.5v12.0M893.1 1326.3v-12.0M893.1 38.5v12.0M902.3 1326.3v-12.0M902.3 38.5v12.0M910.5 1326.3v-12.0M910.5 38.5v12.0M965.7 1326.3v-12.0M965.7 38.5v12.0M993.7 1326.3v-12.0M993.7 38.5v12.0M1013.6 1326.3v-12.0M1013.6 38.5v12.0M1029.0 1326.3v-12.0M1029.0 38.5v12.0M1041.6 1326.3v-12.0M1041.6 38.5v12.0M1052.2 1326.3v-12.0M1052.2 38.5v12.0M1061.5 1326.3v-12.0M1061.5 38.5v12.0M1069.6 1326.3v-12.0M1069.6 38.5v12.0M1124.8 1326.3v-12.0M1124.8 38.5v12.0M1152.8 1326.3v-12.0M1152.8 38.5v12.0M1172.7 1326.3v-12.0M1172.7 38.5v12.0M1188.1 1326.3v-12.0M1188.1 38.5v12.0M1200.7 1326.3v-12.0M1200.7 38.5v12.0M1211.4 1326.3v-12.0M1211.4 38.5v12.0M1220.6 1326.3v-12.0M1220.6 38.5v12.0M1228.8 1326.3v-12.0M1228.8 38.5v12.0M1284.0 1326.3v-12.0M1284.0 38.5v12.0M1312.0 1326.3v-12.0M1312.0 38.5v12.0M1331.9 1326.3v-12.0M1331.9 38.5v12.0M1347.3 1326.3v-12.0M1347.3 38.5v12.0M1359.9 1326.3v-12.0M1359.9 38.5v12.0M1370.5 1326.3v-12.0M1370.5 38.5v12.0M1379.8 1326.3v-12.0M1379.8 38.5v12.0M1387.9 1326.3v-12.0M1387.9 38.5v12.0M1443.1 1326.3v-12.0M1443.1 38.5v12.0M1471.1 1326.3v-12.0M1471.1 38.5v12.0M1491.0 1326.3v-12.0M1491.0 38.5v12.0M1506.4 1326.3v-12.0M1506.4 38.5v12.0M281.0 1157.6h12.0M1507.2 1157.6h-12.0M281.0 1059.0h12.0M1507.2 1059.0h-12.0M281.0 989.0h12.0M1507.2 989.0h-12.0M281.0 934.7h12.0M1507.2 934.7h-12.0M281.0 890.3h12.0M1507.2 890.3h-12.0M281.0 852.8h12.0M1507.2 852.8h-12.0M281.0 820.3h12.0M1507.2 820.3h-12.0M281.0 791.6h12.0M1507.2 791.6h-12.0M281.0 597.3h12.0M1507.2 597.3h-12.0M281.0 498.7h12.0M1507.2 498.7h-12.0M281.0 428.7h12.0M1507.2 428.7h-12.0M281.0 374.4h12.0M1507.2 374.4h-12.0M281.0 330.0h12.0M1507.2 330.0h-12.0M281.0 292.5h12.0M1507.2 292.5h-12.0M281.0 260.0h12.0M1507.2 260.0h-12.0M281.0 231.3h12.0M1507.2 231.3h-12.0" stroke="#2a2a2a" stroke-width="3.2" fill="none"/>
<path d="M281.1 1326.3v-24.0M281.1 38.5v24.0M440.3 1326.3v-24.0M440.3 38.5v24.0M599.5 1326.3v-24.0M599.5 38.5v24.0M758.6 1326.3v-24.0M758.6 38.5v24.0M917.8 1326.3v-24.0M917.8 38.5v24.0M1076.9 1326.3v-24.0M1076.9 38.5v24.0M1236.0 1326.3v-24.0M1236.0 38.5v24.0M1395.2 1326.3v-24.0M1395.2 38.5v24.0M281.0 1326.3h24.0M1507.2 1326.3h-24.0M281.0 766.0h24.0M1507.2 766.0h-24.0M281.0 205.7h24.0M1507.2 205.7h-24.0" stroke="#0c0c0c" stroke-width="4.8" fill="none"/>
<rect x="281.0" y="38.5" width="1226.2" height="1287.8" fill="none" stroke="#161616" stroke-width="3.5"/>
<text x="214.1" y="1412.0" font-size="68">10</text>
<text x="283.8" y="1388.6" font-size="48" textLength="64" lengthAdjust="spacingAndGlyphs">−1</text>
<text x="423.1" y="1412.0" font-size="68">1</text>
<text x="552.6" y="1412.0" font-size="68">10</text>
<text x="619.6" y="1388.6" font-size="48">1</text>
<text x="711.7" y="1412.0" font-size="68">10</text>
<text x="778.7" y="1388.6" font-size="48">2</text>
<text x="870.9" y="1412.0" font-size="68">10</text>
<text x="937.9" y="1388.6" font-size="48">3</text>
<text x="1030.0" y="1412.0" font-size="68">10</text>
<text x="1097.0" y="1388.6" font-size="48">4</text>
<text x="1189.1" y="1412.0" font-size="68">10</text>
<text x="1256.1" y="1388.6" font-size="48">5</text>
<text x="1348.3" y="1412.0" font-size="68">10</text>
<text x="1415.3" y="1388.6" font-size="48">6</text>
<text x="166.2" y="221.3" font-size="68">10</text>
<text x="233.2" y="197.9" font-size="48">0</text>
<text x="127.0" y="781.6" font-size="68">10</text>
<text x="196.6" y="758.2" font-size="48" textLength="64" lengthAdjust="spacingAndGlyphs">−1</text>
<text x="127.0" y="1341.9" font-size="68">10</text>
<text x="196.6" y="1318.5" font-size="48" textLength="64" lengthAdjust="spacingAndGlyphs">−2</text>
<text x="549" y="1491.5" font-size="64" textLength="431" lengthAdjust="spacingAndGlyphs">Neutrino energy</text>
<text x="1006" y="1491.5" font-size="64" class="it">E</text>
<text x="1042" y="1503" font-size="46" class="it">ν</text>
<text x="1086" y="1491.5" font-size="64" textLength="150" lengthAdjust="spacingAndGlyphs">[GeV]</text>
<g transform="translate(85 1195) rotate(-90)"><text x="0" y="0" font-size="64" class="it">σ</text><text x="35" y="-23" font-size="49" textLength="66" lengthAdjust="spacingAndGlyphs">CC</text><text x="29" y="19" font-size="47" class="it" textLength="62" lengthAdjust="spacingAndGlyphs">νN</text><text x="107" y="6" font-size="74" textLength="26" lengthAdjust="spacingAndGlyphs">/</text><text x="142" y="0" font-size="64" class="it">E</text><text x="179" y="8" font-size="47" class="it">ν</text><text x="217" y="0" font-size="64">[</text><text x="238" y="0" font-size="64" textLength="60" lengthAdjust="spacingAndGlyphs">10</text><text x="301" y="-21" font-size="47" textLength="82" lengthAdjust="spacingAndGlyphs">−38</text><text x="396" y="0" font-size="64" textLength="81" lengthAdjust="spacingAndGlyphs">cm</text><text x="478" y="-21" font-size="47">2</text><text x="524" y="0" font-size="64" textLength="124" lengthAdjust="spacingAndGlyphs">GeV</text><text x="649" y="-21" font-size="48" textLength="62" lengthAdjust="spacingAndGlyphs">−1</text><text x="728" y="0" font-size="64" textLength="212" lengthAdjust="spacingAndGlyphs">nucleon</text><text x="944" y="-21" font-size="48" textLength="60" lengthAdjust="spacingAndGlyphs">−1</text><text x="1003" y="0" font-size="64">]</text></g>
</svg></body></html>
